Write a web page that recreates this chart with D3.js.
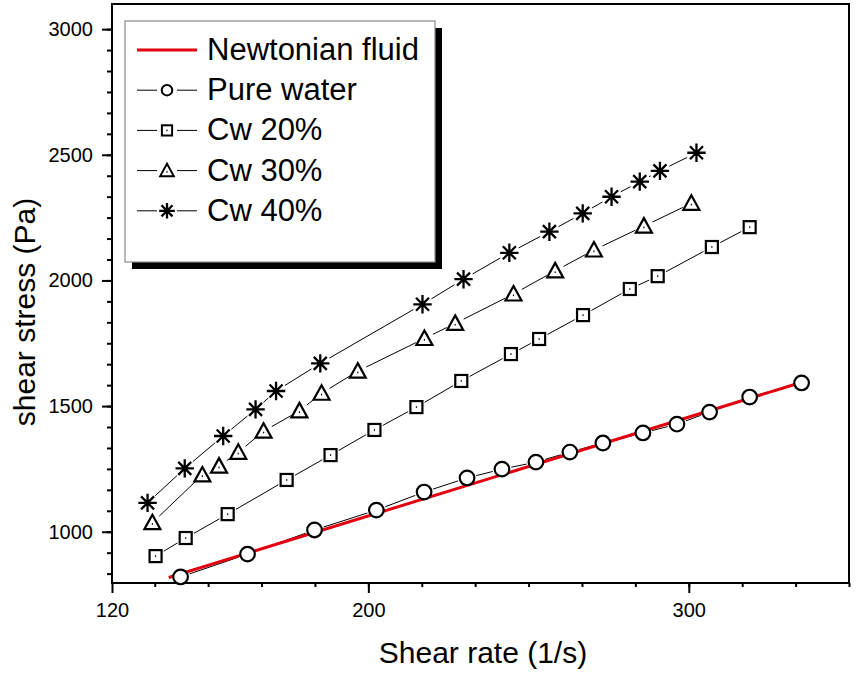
<!DOCTYPE html>
<html>
<head>
<meta charset="utf-8">
<script src="https://cdn.jsdelivr.net/npm/d3@7"></script>
<style>
  body { margin: 0; background: #fff; }
  svg { display: block; font-family: Arial, 'Liberation Sans', sans-serif; }
</style>
</head>
<body>
<div id="chart"></div>
<script>
// data
const waterRate = [141.4, 162.3, 183.2, 202.5, 217.4, 230.8, 241.7, 252.3, 262.9, 273.2, 285.7, 296.3, 306.5, 319.0, 335.2]
const waterStress = [820, 911, 1007, 1086, 1158, 1214, 1249, 1277, 1317, 1353, 1393, 1428, 1476, 1536, 1592]

const cw20Rate = [133.6, 143.0, 156.1, 174.5, 188.2, 201.9, 215.0, 229.0, 244.5, 253.3, 267.0, 281.6, 290.3, 307.2, 319.0]
const cw20Stress = [903, 975, 1070, 1206, 1305, 1405, 1496, 1600, 1707, 1767, 1862, 1966, 2017, 2133, 2212]

const cw30Rate = [132.6, 148.2, 153.4, 159.4, 167.3, 178.5, 185.4, 196.7, 217.5, 227.1, 245.3, 258.3, 270.4, 286.0, 300.8]
const cw30Stress = [1036, 1226, 1261, 1316, 1400, 1481, 1551, 1639, 1769, 1829, 1946, 2038, 2121, 2216, 2307]

const cw40Rate = [131.1, 142.7, 154.7, 164.8, 171.2, 185.0, 216.9, 229.7, 244.0, 256.5, 266.9, 275.9, 284.7, 291.0, 302.4]
const cw40Stress = [1115, 1252, 1381, 1487, 1560, 1670, 1905, 2005, 2110, 2194, 2267, 2333, 2393, 2436, 2508]

// linear fit shown as the Newtonian fluid line
const newtonRate = [137.7, 334.0]
const newtonStress = [818, 1590]

const legendLabels = ['Newtonian fluid', 'Pure water', 'Cw 20%', 'Cw 30%', 'Cw 40%']
const xMajorTicks = [120, 200, 300]
const yMajorTicks = [1000, 1500, 2000, 2500, 3000]

// size
const W = 862
const H = 675
const margin = { left: 112, right: 13, top: 4, bottom: 92 }
const width = W - margin.left - margin.right
const height = H - margin.top - margin.bottom
const font = "Arial, 'Liberation Sans', sans-serif"

// scale
const x = d3.scaleLinear().domain([120, 350]).range([0, width])
const y = d3.scaleLinear().domain([796, 3100]).range([height, 0])

const xMinorTicks = d3.range(-4, 10).map(i => 200 + (i * 100) / 6)
const yMinorTicks = d3.range(-2, 25).map(i => 1000 + (i * 500) / 6)

// markers, drawn around (0,0)
const markers = {
  circle: (g, s) => g.append('circle').attr('r', 7.3 * s).attr('fill', '#fff'),
  square: (g, s) => {
    g.append('rect')
      .attr('x', -6 * s).attr('y', -6 * s)
      .attr('width', 12 * s).attr('height', 12 * s)
      .attr('fill', '#fff')
    g.append('rect').attr('x', -0.6).attr('y', -0.8).attr('width', 1.2).attr('height', 1.6)
      .attr('fill', '#000').attr('stroke', 'none')
  },
  triangle: (g, s) => {
    g.append('path')
      .attr('d', `M0,${-8 * s}L${8 * s},${6.5 * s}L${-8 * s},${6.5 * s}Z`)
      .attr('fill', '#fff')
      .attr('stroke-linejoin', 'miter')
    g.append('rect').attr('x', -0.6).attr('y', 0.5).attr('width', 1.2).attr('height', 1.6)
      .attr('fill', '#000').attr('stroke', 'none')
  },
  star: (g, s) => {
    const r = 9.2 * s
    const d = d3.range(4).map(k => {
      const a = (k * Math.PI) / 4
      return `M${-r * Math.cos(a)},${-r * Math.sin(a)}L${r * Math.cos(a)},${r * Math.sin(a)}`
    }).join('')
    g.append('path').attr('d', d).attr('fill', 'none').attr('stroke-width', 2.3)
  },
}

const series = [
  { name: legendLabels[1], rate: waterRate, stress: waterStress, marker: 'circle', gap: 9.5 },
  { name: legendLabels[2], rate: cw20Rate, stress: cw20Stress, marker: 'square', gap: 9.5 },
  { name: legendLabels[3], rate: cw30Rate, stress: cw30Stress, marker: 'triangle', gap: 9.5 },
  { name: legendLabels[4], rate: cw40Rate, stress: cw40Stress, marker: 'star', gap: 10.5 },
]

const svg = d3
  .select('#chart')
  .append('svg')
  .attr('width', W)
  .attr('height', H)

svg.append('rect').attr('width', W).attr('height', H).attr('fill', '#fff')

const plot = svg
  .append('g')
  .attr('transform', `translate(${margin.left}, ${margin.top})`)

// x-axis: labelled major ticks and short minor ticks
plot
  .append('g')
  .attr('transform', `translate(0, ${height})`)
  .call(d3.axisBottom(x).tickValues(xMinorTicks).tickSize(4).tickFormat(''))
  .call(g => g.select('.domain').remove())
  .call(g => g.selectAll('line').attr('stroke-width', 2))

plot
  .append('g')
  .attr('transform', `translate(0, ${height})`)
  .call(d3.axisBottom(x).tickValues(xMajorTicks).tickSize(10).tickPadding(10).tickFormat(d3.format('d')))
  .call(g => g.select('.domain').remove())
  .call(g => g.selectAll('line').attr('stroke-width', 2))
  .call(g => g.selectAll('text').attr('font-size', 20).attr('font-family', font).attr('fill', '#000'))

// y-axis
plot
  .append('g')
  .call(d3.axisLeft(y).tickValues(yMinorTicks).tickSize(5).tickFormat(''))
  .call(g => g.select('.domain').remove())
  .call(g => g.selectAll('line').attr('stroke-width', 2))

plot
  .append('g')
  .call(d3.axisLeft(y).tickValues(yMajorTicks).tickSize(10).tickPadding(9).tickFormat(d3.format('d')))
  .call(g => g.select('.domain').remove())
  .call(g => g.selectAll('line').attr('stroke-width', 2))
  .call(g => g.selectAll('text').attr('font-size', 20).attr('font-family', font).attr('fill', '#000'))

// frame
plot
  .append('rect')
  .attr('width', width)
  .attr('height', height)
  .attr('fill', 'none')
  .attr('stroke', '#000')
  .attr('stroke-width', 2)

// axis labels
svg
  .append('text')
  .attr('text-anchor', 'middle')
  .attr('font-size', 30)
  .attr('x', 483)
  .attr('y', 663)
  .text('Shear rate (1/s)')

svg
  .append('text')
  .attr('text-anchor', 'middle')
  .attr('font-size', 30)
  .attr('transform', 'translate(35, 312) rotate(-90)')
  .text('shear stress (Pa)')

// connecting lines, stopped short of each marker
series.forEach(s => {
  const pts = s.rate.map((r, i) => [x(r), y(s.stress[i])])
  const segs = d3.pairs(pts).filter(([a, b]) => Math.hypot(b[0] - a[0], b[1] - a[1]) > 2 * s.gap)
  plot
    .append('g')
    .selectAll('line')
    .data(segs)
    .join('line')
    .each(function([a, b]) {
      const len = Math.hypot(b[0] - a[0], b[1] - a[1])
      const ux = (b[0] - a[0]) / len
      const uy = (b[1] - a[1]) / len
      d3.select(this)
        .attr('x1', a[0] + ux * s.gap)
        .attr('y1', a[1] + uy * s.gap)
        .attr('x2', b[0] - ux * s.gap)
        .attr('y2', b[1] - uy * s.gap)
    })
    .attr('stroke', '#000')
    .attr('stroke-width', 1)
})

// Newtonian fluid fit
plot
  .append('path')
  .datum(newtonRate.map((r, i) => [r, newtonStress[i]]))
  .attr('d', d3.line().x(d => x(d[0])).y(d => y(d[1])))
  .attr('fill', 'none')
  .attr('stroke', '#e3000f')
  .attr('stroke-width', 3)

// markers
series.forEach(s => {
  plot
    .append('g')
    .selectAll('g')
    .data(s.rate.map((r, i) => [r, s.stress[i]]))
    .join('g')
    .attr('transform', d => `translate(${x(d[0])}, ${y(d[1])})`)
    .attr('stroke', '#000')
    .attr('stroke-width', 2.2)
    .each(function() {
      markers[s.marker](d3.select(this), 1)
    })
})

// legend
const legend = svg.append('g')
legend.append('rect')
  .attr('x', 132).attr('y', 28).attr('width', 310).attr('height', 241)
  .attr('fill', '#000')
legend.append('rect')
  .attr('x', 125).attr('y', 21).attr('width', 310).attr('height', 241)
  .attr('fill', '#fff').attr('stroke', '#8a8a8a').attr('stroke-width', 1.2)

const rowY = i => 50 + i * 40.2

legend.append('line')
  .attr('x1', 137).attr('x2', 197).attr('y1', rowY(0)).attr('y2', rowY(0))
  .attr('stroke', '#e3000f').attr('stroke-width', 3)

series.forEach((s, i) => {
  const yy = rowY(i + 1)
  legend.append('line').attr('x1', 137).attr('x2', 157).attr('y1', yy).attr('y2', yy)
    .attr('stroke', '#000').attr('stroke-width', 1)
  legend.append('line').attr('x1', 177).attr('x2', 197).attr('y1', yy).attr('y2', yy)
    .attr('stroke', '#000').attr('stroke-width', 1)
  const g = legend.append('g')
    .attr('transform', `translate(167, ${yy})`)
    .attr('stroke', '#000')
    .attr('stroke-width', 2)
  markers[s.marker](g, s.marker === 'circle' ? 0.72 : 0.85)
})

legend.selectAll('text.label')
  .data(legendLabels)
  .join('text')
  .attr('class', 'label')
  .attr('x', 207)
  .attr('y', (d, i) => rowY(i) + 10)
  .attr('font-size', 31)
  .attr('fill', '#000')
  .text(d => d)
</script>
</body>
</html>
